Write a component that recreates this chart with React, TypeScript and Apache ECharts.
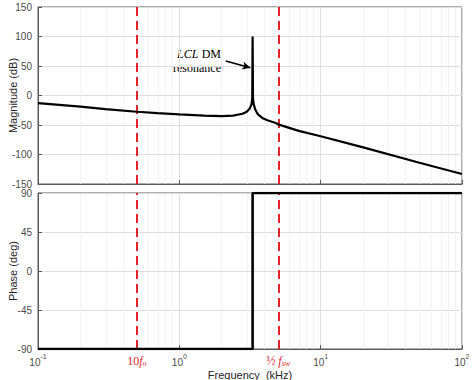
import React, { useEffect, useRef } from "react";
import * as echarts from "echarts";

const freqKHz = [0.1, 0.2, 0.3, 0.5, 0.7, 1, 1.5, 2, 2.4, 2.8, 3.0, 3.15, 3.24, 3.28, 3.3, 3.32, 3.36, 3.45, 3.6, 3.9, 4.2, 4.86, 5, 7, 10, 20, 50, 100];
const magDB = [-13, -19, -23, -27.5, -30, -32, -34, -35, -34, -31, -27.5, -22, -15, -5, 100, -5, -15, -24, -32, -38.6, -42, -47, -49, -60, -69, -88, -114, -133];
const phaseFreq = [0.1, 3.3, 3.3, 100];
const phaseDeg = [-90, -90, 90, 90];
const markerFreqs = [0.5, 5];
const minorFreqs = [0.2, 0.3, 0.4, 0.5, 0.6, 0.7, 0.8, 0.9, 2, 3, 4, 5, 6, 7, 8, 9, 20, 30, 40, 50, 60, 70, 80, 90];
const freqDecades = { min: -1, max: 2, interval: 1 }; // 10^-1 … 10^2 kHz
const magTicks = { min: -150, max: 150, interval: 50 };
const phaseTicks = { min: -90, max: 90, interval: 45 };
const arrowFrom = [2.13, 58.5];
const arrowTo = [3.18, 47];

const RED = "#e3222b";
const SERIF = "'Liberation Serif', 'Times New Roman', serif";
const SANS = "'Liberation Sans', Arial, Helvetica, sans-serif";
const lg = (f: number) => Math.log10(f);

export default function App() {
  const ref = useRef<HTMLDivElement>(null);
  useEffect(() => {
    document.body.style.margin = "0";
    const chart = echarts.init(ref.current!, undefined, { renderer: "svg" });
    const supLabel = (v: number) => `{b|10}{s|${Math.round(v)}}`;
    const axisLabelRich = {
      b: { fontSize: 10, fontFamily: SANS, color: "#4a4a4a", lineHeight: 14, verticalAlign: "bottom" },
      s: { fontSize: 7, fontFamily: SANS, color: "#4a4a4a", lineHeight: 14, verticalAlign: "top" },
    };
    const xBase = (gridIndex: number, showLabels: boolean) => ({
      type: "value",
      gridIndex,
      min: freqDecades.min,
      max: freqDecades.max,
      interval: freqDecades.interval,
      axisLine: { show: true, onZero: false, lineStyle: { color: "#5a5a5a", width: 1 } },
      axisTick: { show: true, inside: true, length: 4, lineStyle: { color: "#5a5a5a" } },
      splitLine: { show: true, lineStyle: { color: "#dedede", width: 1 } },
      axisLabel: showLabels
        ? { show: true, formatter: supLabel, rich: axisLabelRich, margin: 4 }
        : { show: false },
      ...(showLabels
        ? {
            name: "Frequency  (kHz)",
            nameLocation: "middle",
            nameGap: 20,
            nameMoveOverlap: false,
            nameTextStyle: { fontSize: 11, fontFamily: SANS, color: "#262626" },
          }
        : {}),
    });
    const yBase = (gridIndex: number, ticks: any, name: string) => ({
      type: "value",
      gridIndex,
      min: ticks.min,
      max: ticks.max,
      interval: ticks.interval,
      name,
      nameLocation: "middle",
      nameGap: 20,
      nameMoveOverlap: false,
      nameTextStyle: { fontSize: 11, fontFamily: SANS, color: "#262626" },
      axisLine: { show: true, onZero: false, lineStyle: { color: "#5a5a5a", width: 1 } },
      axisTick: { show: true, inside: true, length: 4, lineStyle: { color: "#5a5a5a" } },
      splitLine: { show: true, lineStyle: { color: "#dedede", width: 1 } },
      axisLabel: { fontSize: 10, fontFamily: SANS, color: "#4a4a4a", margin: 6 },
    });
    const minorMark = {
      silent: true,
      symbol: ["none", "none"],
      label: { show: false },
      lineStyle: { color: "#e6e6e6", type: "dotted", width: 1 },
      data: minorFreqs.map((f) => ({ xAxis: lg(f) })),
    };
    const redMark = (withLabels: boolean) => ({
      silent: true,
      symbol: ["none", "none"],
      lineStyle: { color: RED, type: [9, 5], width: 2 },
      label: withLabels
        ? {
            show: true,
            position: "start",
            distance: 2,
            rich: {
              n: { fontFamily: SERIF, fontSize: 12, color: RED, lineHeight: 16, verticalAlign: "bottom" },
              i: { fontFamily: SERIF, fontSize: 12, color: RED, fontStyle: "italic", lineHeight: 16, verticalAlign: "bottom" },
              s: { fontFamily: SERIF, fontSize: 8, color: RED, fontStyle: "italic", lineHeight: 13, verticalAlign: "bottom" },
            },
          }
        : { show: false },
      data: markerFreqs.map((f, idx) => ({
        xAxis: lg(f),
        label: withLabels
          ? { formatter: idx === 0 ? "{n|10}{i|f}{s|o}" : "{n|½ }{i|f}{s|sw}" }
          : undefined,
      })),
    });

    chart.setOption({
      animation: false,
      backgroundColor: "#ffffff",
      grid: [
        { left: 38, top: 7, width: 424, height: 177, show: true, borderColor: "#5a5a5a", borderWidth: 1, outerBoundsMode: "none", containLabel: false },
        { left: 38, top: 193, width: 424, height: 156, show: true, borderColor: "#5a5a5a", borderWidth: 1, outerBoundsMode: "none", containLabel: false },
      ],
      xAxis: [xBase(0, false), xBase(1, true)],
      yAxis: [yBase(0, magTicks, "Magnitude (dB)"), yBase(1, phaseTicks, "Phase (deg)")],
      series: [
        { type: "line", xAxisIndex: 0, yAxisIndex: 0, data: [], markLine: minorMark },
        { type: "line", xAxisIndex: 1, yAxisIndex: 1, data: [], markLine: minorMark },
        {
          type: "line",
          xAxisIndex: 0,
          yAxisIndex: 0,
          showSymbol: false,
          symbol: "none",
          lineStyle: { color: "#000", width: 2.2 },
          data: freqKHz.map((f, i) => [lg(f), magDB[i]]),
          markLine: redMark(false),
          z: 5,
        },
        {
          type: "line",
          xAxisIndex: 1,
          yAxisIndex: 1,
          showSymbol: false,
          symbol: "none",
          lineStyle: { color: "#000", width: 2.6 },
          data: phaseFreq.map((f, i) => [lg(f), phaseDeg[i]]),
          markLine: redMark(true),
          z: 5,
        },
        {
          type: "line",
          xAxisIndex: 0,
          yAxisIndex: 0,
          data: [],
          markLine: {
            silent: true,
            symbol: ["none", "arrow"],
            symbolSize: [6, 8],
            label: { show: false },
            lineStyle: { color: "#000", type: "solid", width: 1.6 },
            data: [[{ coord: [lg(arrowFrom[0]), arrowFrom[1]] }, { coord: [lg(arrowTo[0]), arrowTo[1]] }]],
          },
        },
      ],
      graphic: [
        {
          type: "text",
          left: 177,
          top: 48,
          style: {
            text: "{i|LCL} {n|DM}",
            rich: {
              i: { fontFamily: SERIF, fontSize: 12, fontStyle: "italic", fill: "#000" },
              n: { fontFamily: SERIF, fontSize: 12, fill: "#000" },
            },
          },
        },
        {
          type: "text",
          left: 173,
          top: 62,
          style: { text: "resonance", fontFamily: SERIF, fontSize: 12, fill: "#000" },
        },
      ],
    });
    return () => chart.dispose();
  }, []);
  return <div ref={ref} style={{ width: 474, height: 380 }} />;
}
